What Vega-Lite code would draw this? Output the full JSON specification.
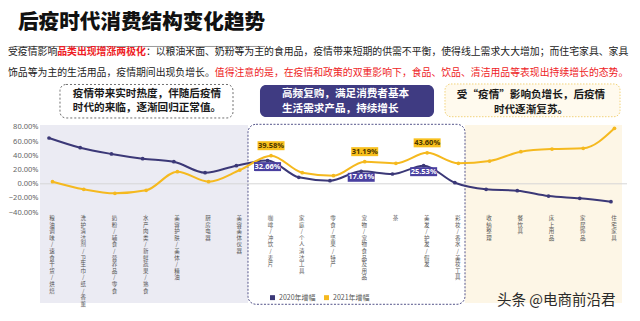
{
  "$schema": "https://vega.github.io/schema/vega-lite/v6.json",
  "width": 640,
  "height": 321,
  "padding": 0,
  "autosize": {"type": "none"},
  "background": "white",
  "config": {"view": {"stroke": null}, "font": "Noto Sans CJK SC"},
  "datasets": {
    "pts": [
      {"c": "粮油调味/速食干货/烘焙", "i": 1, "s": "2020年增幅", "v": 0.645},
      {"c": "洗护清洁剂/卫生巾/纸/香薰", "i": 2, "s": "2020年增幅", "v": 0.508},
      {"c": "奶粉/辅食/营养品/零食", "i": 3, "s": "2020年增幅", "v": 0.420},
      {"c": "水产肉类/新鲜蔬果/熟食", "i": 4, "s": "2020年增幅", "v": 0.354},
      {"c": "美容护肤/美体/精油", "i": 5, "s": "2020年增幅", "v": 0.311},
      {"c": "厨房电器", "i": 6, "s": "2020年增幅", "v": 0.156},
      {"c": "美容美体仪器", "i": 7, "s": "2020年增幅", "v": 0.255},
      {"c": "咖啡/冲饮/麦片", "i": 8, "s": "2020年增幅", "v": 0.3266},
      {"c": "家庭/个人清洁工具", "i": 9, "s": "2020年增幅", "v": 0.092},
      {"c": "零食/坚果/特产", "i": 10, "s": "2020年增幅", "v": 0.044},
      {"c": "宠物/宠物食品及用品", "i": 11, "s": "2020年增幅", "v": 0.1761},
      {"c": "茶", "i": 12, "s": "2020年增幅", "v": 0.138},
      {"c": "美发/护发/假发", "i": 13, "s": "2020年增幅", "v": 0.2553},
      {"c": "彩妆/香水/美妆工具", "i": 14, "s": "2020年增幅", "v": 0.015},
      {"c": "收纳整理", "i": 15, "s": "2020年增幅", "v": -0.077},
      {"c": "餐饮具", "i": 16, "s": "2020年增幅", "v": -0.097},
      {"c": "床上用品", "i": 17, "s": "2020年增幅", "v": -0.172},
      {"c": "家居饰品", "i": 18, "s": "2020年增幅", "v": -0.204},
      {"c": "住宅家具", "i": 19, "s": "2020年增幅", "v": -0.252},
      {"c": "粮油调味/速食干货/烘焙", "i": 1, "s": "2021年增幅", "v": 0.030},
      {"c": "洗护清洁剂/卫生巾/纸/香薰", "i": 2, "s": "2021年增幅", "v": -0.077},
      {"c": "奶粉/辅食/营养品/零食", "i": 3, "s": "2021年增幅", "v": -0.134},
      {"c": "水产肉类/新鲜蔬果/熟食", "i": 4, "s": "2021年增幅", "v": -0.092},
      {"c": "美容护肤/美体/精油", "i": 5, "s": "2021年增幅", "v": 0.170},
      {"c": "厨房电器", "i": 6, "s": "2021年增幅", "v": 0.030},
      {"c": "美容美体仪器", "i": 7, "s": "2021年增幅", "v": 0.194},
      {"c": "咖啡/冲饮/麦片", "i": 8, "s": "2021年增幅", "v": 0.3958},
      {"c": "家庭/个人清洁工具", "i": 9, "s": "2021年增幅", "v": 0.156},
      {"c": "零食/坚果/特产", "i": 10, "s": "2021年增幅", "v": 0.114},
      {"c": "宠物/宠物食品及用品", "i": 11, "s": "2021年增幅", "v": 0.3119},
      {"c": "茶", "i": 12, "s": "2021年增幅", "v": 0.289},
      {"c": "美发/护发/假发", "i": 13, "s": "2021年增幅", "v": 0.436},
      {"c": "彩妆/香水/美妆工具", "i": 14, "s": "2021年增幅", "v": 0.289},
      {"c": "收纳整理", "i": 15, "s": "2021年增幅", "v": 0.321},
      {"c": "餐饮具", "i": 16, "s": "2021年增幅", "v": 0.452},
      {"c": "床上用品", "i": 17, "s": "2021年增幅", "v": 0.490},
      {"c": "家居饰品", "i": 18, "s": "2021年增幅", "v": 0.500},
      {"c": "住宅家具", "i": 19, "s": "2021年增幅", "v": 0.782}
    ]
  },
  "encoding": {
    "x": {"field": "i", "type": "quantitative", "scale": {"domain": [-0.5695, 19.93], "nice": false, "zero": false}, "axis": null},
    "y": {"field": "v", "type": "quantitative", "scale": {"domain": [-1.9324, 2.5887], "nice": false, "zero": false},
      "axis": {"values": [-0.4, -0.2, 0, 0.2, 0.4, 0.6, 0.8], "format": ".2%", "title": null, "domain": false, "ticks": false, "grid": false, "offset": -39, "labelPadding": 1, "labelFontSize": 7.5, "labelColor": "#666666", "labelFont": "Noto Sans"}}
  },
  "layer": [
    {"data": {"values": [{"i": 0.712, "i2": 7.374, "v": 0.828, "v2": -1.679}]},
     "mark": {"type": "rect", "fill": "#ebebf3"},
     "encoding": {"x2": {"field": "i2"}, "y2": {"field": "v2"}}},
    {"data": {"values": [{"i": 14.325, "i2": 19.354, "v": 0.828, "v2": -1.679}]},
     "mark": {"type": "rect", "fill": "#fdf6e6"},
     "encoding": {"x2": {"field": "i2"}, "y2": {"field": "v2"}}},
    {"data": {"values": [{"i": 7.374, "i2": 14.325, "v": 0.838, "v2": -1.697}]},
     "mark": {"type": "rect", "fill": "#ffffff", "stroke": "#55558a", "strokeWidth": 1, "strokeDash": [2, 1.5], "cornerRadius": 8},
     "encoding": {"x2": {"field": "i2"}, "y2": {"field": "v2"}}},
    {"data": {"values": [{"i": 0.712, "i2": 19.514, "v": 0}]},
     "mark": {"type": "rule", "stroke": "#d6d6d6", "strokeWidth": 1},
     "encoding": {"x2": {"field": "i2"}}},
    {"data": {"values": [{"i": 1.352, "i2": 6.894, "v": 1.399, "v2": 0.927}]},
     "mark": {"type": "rect", "fill": "#ffffff", "stroke": "#707070", "strokeWidth": 1, "strokeDash": [2, 2], "cornerRadius": 6},
     "encoding": {"x2": {"field": "i2"}, "y2": {"field": "v2"}}},
    {"data": {"values": [{"i": 7.758, "i2": 13.332, "v": 1.392, "v2": 0.941}]},
     "mark": {"type": "rect", "fill": "#3f3b82", "cornerRadius": 6},
     "encoding": {"x2": {"field": "i2"}, "y2": {"field": "v2"}}},
    {"data": {"values": [{"i": 13.684, "i2": 19.29, "v": 1.406, "v2": 0.945}]},
     "mark": {"type": "rect", "fill": "#fffaee", "stroke": "#f2d37c", "strokeWidth": 1, "strokeDash": [1.5, 1.5], "cornerRadius": 6},
     "encoding": {"x2": {"field": "i2"}, "y2": {"field": "v2"}}},
    {"data": {"values": [
      {"t": "疫情带来实时热度，伴随后疫情", "i": 4.139, "v": 1.258},
      {"t": "时代的来临，逐渐回归正常值。", "i": 4.139, "v": 1.061},
      {"t": "受“疫情”影响负增长，后疫情", "i": 16.439, "v": 1.245},
      {"t": "时代逐渐复苏。", "i": 16.439, "v": 1.035}]},
     "mark": {"type": "text", "align": "center", "baseline": "middle", "fontSize": 10.6, "fontWeight": "bold", "color": "#1a1a1a"},
     "encoding": {"text": {"field": "t"}}},
    {"data": {"values": [
      {"t": "高频复购，满足消费者基本", "i": 8.463, "v": 1.258},
      {"t": "生活需求产品，持续增长", "i": 8.463, "v": 1.054}]},
     "mark": {"type": "text", "align": "left", "baseline": "middle", "fontSize": 10.6, "fontWeight": "bold", "color": "#ffffff"},
     "encoding": {"text": {"field": "t"}}},
    {"data": {"values": [{"t": "后疫时代消费结构变化趋势", "i": 0.007, "v": 2.265}]},
     "mark": {"type": "text", "align": "left", "baseline": "middle", "fontSize": 20.6, "fontWeight": 900, "color": "#111111"},
     "encoding": {"text": {"field": "t"}}},
    {"data": {"values": [{"i": -0.089, "i2": 7.919, "v": 1.934}]},
     "mark": {"type": "rule", "stroke": "#9a9a9a", "strokeWidth": 1},
     "encoding": {"x2": {"field": "i2"}}},
    {"data": {"values": [
      {"t": "受疫情影响", "i": -0.313, "v": 1.856},
      {"t": "：以粮油米面、奶粉等为主的食用品，疫情带来短期的供需不平衡，使得线上需求大大增加；而住宅家具、家具", "i": 4.104, "v": 1.856},
      {"t": "饰品等为主的生活用品，疫情期间出现负增长。", "i": -0.313, "v": 1.561}]},
     "mark": {"type": "text", "align": "left", "baseline": "middle", "fontSize": 9.85, "color": "#222222"},
     "encoding": {"text": {"field": "t"}}},
    {"data": {"values": [{"t": "品类出现增涨两极化", "i": 1.264, "v": 1.856}]},
     "mark": {"type": "text", "align": "left", "baseline": "middle", "fontSize": 9.85, "fontWeight": "bold", "color": "#ee1c25"},
     "encoding": {"text": {"field": "t"}}},
    {"data": {"values": [{"t": "值得注意的是，在疫情和政策的双重影响下，食品、饮品、清洁用品等表现出持续增长的态势。", "i": 6.312, "v": 1.561}]},
     "mark": {"type": "text", "align": "left", "baseline": "middle", "fontSize": 9.85, "color": "#ee1c25"},
     "encoding": {"text": {"field": "t"}}},
    {"data": {"name": "pts"},
     "transform": [{"filter": "datum.s === '2020年增幅'"}],
     "mark": {"type": "line", "interpolate": "monotone", "strokeWidth": 2},
     "encoding": {"color": {"field": "s", "type": "nominal",
       "scale": {"domain": ["2020年增幅", "2021年增幅"], "range": ["#3b3877", "#f5b91f"]},
       "legend": {"orient": "none", "legendX": 269, "legendY": 294, "direction": "horizontal", "title": null, "symbolType": "square", "symbolSize": 6, "symbolStrokeWidth": 2.5, "labelFontSize": 7, "labelColor": "#555555", "labelFont": "Noto Sans CJK SC", "columnPadding": 4, "labelOffset": 3, "padding": 0}}}},
    {"data": {"name": "pts"},
     "transform": [{"filter": "datum.s === '2021年增幅'"}],
     "mark": {"type": "line", "interpolate": "monotone", "strokeWidth": 2, "xOffset": 3.5},
     "encoding": {"color": {"field": "s", "type": "nominal",
       "scale": {"domain": ["2020年增幅", "2021年增幅"], "range": ["#3b3877", "#f5b91f"]},
       "legend": {"orient": "none", "legendX": 269, "legendY": 294, "direction": "horizontal", "title": null, "symbolType": "square", "symbolSize": 6, "symbolStrokeWidth": 2.5, "labelFontSize": 7, "labelColor": "#555555", "labelFont": "Noto Sans CJK SC", "columnPadding": 4, "labelOffset": 3, "padding": 0}}}},
    {"data": {"name": "pts"},
     "transform": [{"filter": "datum.s === '2020年增幅'"}],
     "mark": {"type": "point", "filled": true, "size": 14, "opacity": 1, "color": "#3b3877"}},
    {"data": {"name": "pts"},
     "transform": [{"filter": "datum.s === '2021年增幅'"}],
     "mark": {"type": "point", "filled": true, "size": 14, "opacity": 1, "color": "#f5b91f", "xOffset": 3.5}},
    {"data": {"name": "pts"},
     "transform": [{"filter": "datum.s === '2020年增幅'"}, {"calculate": "split(datum.c, '')", "as": "chars"}],
     "mark": {"type": "text", "align": "center", "baseline": "top", "fontSize": 5.5, "lineHeight": 6.6, "color": "#555555", "xOffset": 3},
     "encoding": {"y": {"datum": -0.455}, "text": {"field": "chars", "type": "nominal"}}},
    {"data": {"name": "pts"},
     "transform": [{"filter": "datum.s === '2021年增幅' && (datum.i === 8 || datum.i === 11 || datum.i === 13)"}],
     "mark": {"type": "point", "shape": "M-1,-0.333H1V0.333H-1Z", "size": 729, "filled": true, "opacity": 1, "color": "#f8c01e", "xOffset": 3.5, "yOffset": -10}},
    {"data": {"name": "pts"},
     "transform": [{"filter": "datum.s === '2021年增幅' && (datum.i === 8 || datum.i === 11 || datum.i === 13)"}],
     "mark": {"type": "text", "align": "center", "baseline": "middle", "fontSize": 7.5, "fontWeight": "bold", "font": "Noto Sans", "color": "#4a3500", "xOffset": 3.5, "yOffset": -10},
     "encoding": {"text": {"field": "v", "type": "quantitative", "format": ".2%"}}},
    {"data": {"name": "pts"},
     "transform": [{"filter": "datum.s === '2020年增幅' && (datum.i === 8 || datum.i === 11 || datum.i === 13)"}],
     "mark": {"type": "point", "shape": "M-1,-0.333H1V0.333H-1Z", "size": 729, "filled": true, "opacity": 1, "color": "#4a40a0", "yOffset": 6}},
    {"data": {"name": "pts"},
     "transform": [{"filter": "datum.s === '2020年增幅' && (datum.i === 8 || datum.i === 11 || datum.i === 13)"}],
     "mark": {"type": "text", "align": "center", "baseline": "middle", "fontSize": 7.5, "fontWeight": "bold", "font": "Noto Sans", "color": "#ffffff", "yOffset": 6},
     "encoding": {"text": {"field": "v", "type": "quantitative", "format": ".2%"}}},
    {"data": {"values": [{"t": "头条 @电商前沿君", "i": 15.35, "v": -1.651}]},
     "mark": {"type": "text", "align": "left", "baseline": "middle", "fontSize": 14.5, "color": "#2a2a2a"},
     "encoding": {"text": {"field": "t"}}}
  ]
}
